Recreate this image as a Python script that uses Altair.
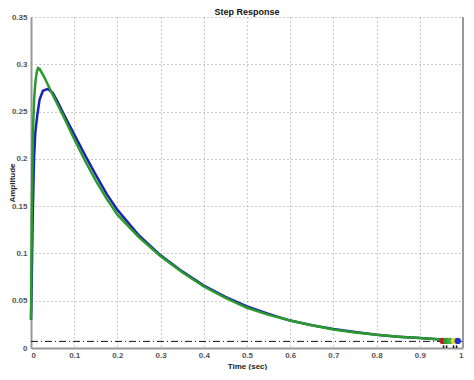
import altair as alt
import pandas as pd

# ---- data ----
blue_t = [0, 0.002, 0.004, 0.007, 0.01, 0.0145, 0.02, 0.0276, 0.039, 0.05, 0.062, 0.075,
          0.1, 0.125, 0.15, 0.175, 0.2, 0.25, 0.3, 0.35, 0.4, 0.45, 0.5, 0.55, 0.6, 0.65,
          0.7, 0.75, 0.8, 0.85, 0.9, 0.95, 0.988]
blue_y = [0.03, 0.08, 0.14, 0.2, 0.228, 0.246, 0.263, 0.272, 0.274, 0.27, 0.26, 0.248,
          0.226, 0.204, 0.183, 0.163, 0.146, 0.119, 0.098, 0.081, 0.066, 0.054, 0.044, 0.036,
          0.029, 0.024, 0.020, 0.017, 0.014, 0.012, 0.0105, 0.009, 0.0078]

green_t = [0, 0.001, 0.002, 0.0035, 0.005, 0.0075, 0.01, 0.013, 0.016, 0.02, 0.03, 0.05,
           0.075, 0.1, 0.125, 0.15, 0.175, 0.2, 0.25, 0.3, 0.35, 0.4, 0.45, 0.5, 0.55, 0.6,
           0.65, 0.7, 0.75, 0.8, 0.85, 0.9, 0.95, 0.975]
green_y = [0.03, 0.09, 0.15, 0.2, 0.235, 0.265, 0.28, 0.291, 0.296, 0.295, 0.287, 0.268,
           0.245, 0.221, 0.198, 0.177, 0.158, 0.141, 0.117, 0.097, 0.08, 0.065, 0.053, 0.0425,
           0.035, 0.029, 0.024, 0.0195, 0.0165, 0.014, 0.012, 0.0105, 0.009, 0.0082]

steady_value = 0.007
marker_t = [0.953, 0.962, 0.970, 0.979, 0.988]
marker_y = [0.0075, 0.0075, 0.0075, 0.0075, 0.0075]
marker_color = ["#b22222", "#2ca02c", "#3cb043", "#e8d53a", "#1f2fd0"]
tick_t = [0.955, 0.962, 0.978, 0.985]

x_ticks = [0, 0.1, 0.2, 0.3, 0.4, 0.5, 0.6, 0.7, 0.8, 0.9, 1]
y_ticks = [0, 0.05, 0.1, 0.15, 0.2, 0.25, 0.3, 0.35]

blue_df = pd.DataFrame({"t": blue_t, "y": blue_y})
green_df = pd.DataFrame({"t": green_t, "y": green_y})
mk_df = pd.DataFrame({"t": marker_t, "y": marker_y, "c": marker_color})
tk_df = pd.DataFrame({"t": tick_t, "y0": [0] * len(tick_t), "y1": [0.0028] * len(tick_t)})
ref_df = pd.DataFrame({"t": [0, 1], "y": [steady_value, steady_value]})

FONT = "Liberation Sans"
PW, PH = 432, 331
xs = alt.Scale(domain=[0, 1], nice=False)
ys = alt.Scale(domain=[0, 0.35], nice=False)

x_axis = alt.Axis(values=x_ticks, format="~g", title="Time (sec)", grid=True,
                  gridDash=[1, 3], gridColor="#999", gridWidth=1,
                  domainColor="#999", domainWidth=2, ticks=False,
                  labelFont=FONT, labelFontSize=8, labelFontWeight="bold", labelColor="#555",
                  labelPadding=3, titleFont=FONT, titleFontSize=8, titleFontWeight="bold",
                  titleColor="#222", titlePadding=3)
y_axis = alt.Axis(values=y_ticks, format="~g", title="Amplitude", grid=True,
                  gridDash=[1, 3], gridColor="#999", gridWidth=1,
                  domainColor="#999", domainWidth=2, ticks=False,
                  labelFont=FONT, labelFontSize=8, labelFontWeight="bold", labelColor="#555",
                  labelPadding=4, titleFont=FONT, titleFontSize=8, titleFontWeight="bold",
                  titleColor="#222", titleX=-23, titleY=PH / 2, titleBaseline="top",
                  titleAngle=270)

base_blue = alt.Chart(blue_df).mark_line(color="#1c22b4", strokeWidth=2.5).encode(
    x=alt.X("t:Q", scale=xs, axis=x_axis),
    y=alt.Y("y:Q", scale=ys, axis=y_axis),
)
line_green = alt.Chart(green_df).mark_line(color="#2a9a2a", strokeWidth=2.5).encode(
    x=alt.X("t:Q", scale=xs), y=alt.Y("y:Q", scale=ys))
ref_line = alt.Chart(ref_df).mark_line(color="#111", strokeWidth=1, strokeDash=[7, 3, 1, 3]).encode(
    x=alt.X("t:Q", scale=xs), y=alt.Y("y:Q", scale=ys))
right_border = alt.Chart(ref_df).mark_rule(color="#999", strokeWidth=2).encode(
    x=alt.datum(1), y=alt.value(0), y2=alt.value(PH))
ticks = alt.Chart(tk_df).mark_rule(color="#111", strokeWidth=1.5).encode(
    x=alt.X("t:Q", scale=xs), y=alt.Y("y0:Q", scale=ys), y2="y1:Q")
markers = alt.Chart(mk_df).mark_circle(size=40, opacity=1).encode(
    x=alt.X("t:Q", scale=xs), y=alt.Y("y:Q", scale=ys),
    color=alt.Color("c:N", scale=None))

chart = alt.layer(base_blue, line_green, ref_line, ticks, markers, right_border).properties(
    width=PW, height=PH,
    autosize=alt.AutoSizeParams(type="none"),
    padding={"left": 23, "top": 9, "right": 3, "bottom": 22},
    title=alt.TitleParams("Step Response", font=FONT, fontSize=9, fontWeight="bold",
                          color="#111", anchor="middle", offset=0, dy=4),
).configure_view(stroke=None)

chart.save("out.html", embed_options={"renderer": "svg", "actions": False})
